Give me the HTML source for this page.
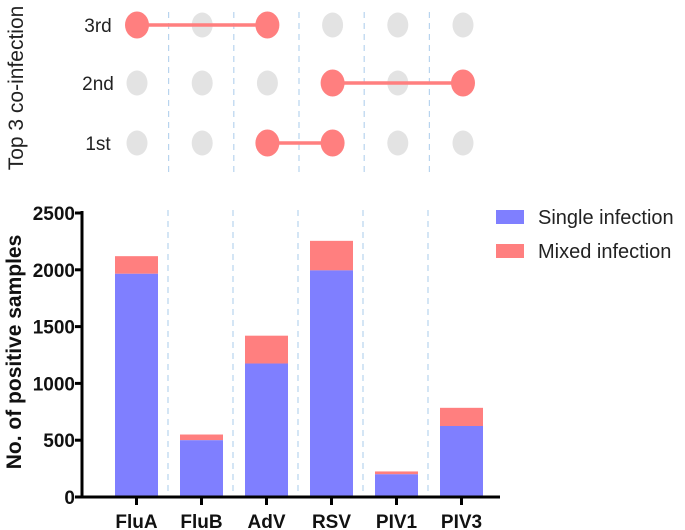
<!DOCTYPE html>
<html><head><meta charset="utf-8"><style>
body{margin:0;background:#fff}
svg{display:block;font-family:"Liberation Sans",Arial,sans-serif}
</style></head><body>
<svg id="c" width="685" height="530" viewBox="0 0 685 530"></svg>
<script>
const categories=["FluA","FluB","AdV","RSV","PIV1","PIV3"];
const singleVals=[1965,500,1175,1995,200,625];
const mixedTotals=[2120,550,1420,2255,225,785];
const yTicks=[0,500,1000,1500,2000,2500];
const rankLabels=["3rd","2nd","1st"];
const pairs=[[0,2],[3,5],[2,3]];
const NS="http://www.w3.org/2000/svg";
const svg=document.getElementById('c');
function mk(t,a,p){const e=document.createElementNS(NS,t);for(const k in a)e.setAttribute(k,a[k]);(p||svg).appendChild(e);return e;}
const y=v=>497-v/2500*284;
const x=i=>136.5+65*i;
const dotX=i=>137+65.2*i;
const rowY=[25,83,143];
for(let i=0;i<5;i++){const sx=(dotX(i)+dotX(i+1))/2-1;const l=mk('line',{x1:sx,y1:12,x2:sx,y2:172,stroke:'#b8d4ee','stroke-width':1.2,'stroke-dasharray':'6,5'});
}
rankLabels.forEach((r,ri)=>{
 const t=mk('text',{x:98,y:rowY[ri]+7,'font-size':19,'text-anchor':'middle',fill:'#222'});t.textContent=r;
 
 for(let i=0;i<6;i++){
  const c=mk('ellipse',{cx:dotX(i),cy:rowY[ri],rx:10.5,ry:12.5,fill:'#e3e3e3'});
  }
});
pairs.forEach((p,ri)=>{
 const l=mk('line',{x1:dotX(p[0]),y1:rowY[ri],x2:dotX(p[1]),y2:rowY[ri],stroke:'#ff7f7f','stroke-width':3.5});
 
 p.forEach(i=>{const c=mk('ellipse',{cx:dotX(i),cy:rowY[ri],rx:12,ry:13.5,fill:'#ff7f7f'});
 });
});
const tt=mk('text',{transform:'translate(23,88) rotate(-90)','font-size':21,'text-anchor':'middle',fill:'#222'});tt.textContent='Top 3 co-infection';

for(let i=0;i<5;i++){const sx=(x(i)+x(i+1))/2-1;const l=mk('line',{x1:sx,y1:210,x2:sx,y2:495,stroke:'#b8d4ee','stroke-width':1.2,'stroke-dasharray':'6,5'});
}
categories.forEach((c,i)=>{
 const bw=43;
 const m=mk('rect',{x:x(i)-bw/2,y:y(mixedTotals[i]),width:bw,height:y(singleVals[i])-y(mixedTotals[i]),fill:'#ff7f7f'});
 
 const s=mk('rect',{x:x(i)-bw/2,y:y(singleVals[i]),width:bw,height:y(0)-y(singleVals[i]),fill:'#7f7fff'});
 
 const tk=mk('line',{x1:x(i),y1:497,x2:x(i),y2:505,stroke:'#000','stroke-width':3});
 
 const t=mk('text',{x:x(i),y:528,'font-size':19,'font-weight':'bold','text-anchor':'middle',fill:'#111'});t.textContent=c;
 
});
const ya=mk('line',{x1:82,y1:211,x2:82,y2:498.5,stroke:'#000','stroke-width':3});
const xa=mk('line',{x1:76,y1:497,x2:500,y2:497,stroke:'#000','stroke-width':3});
yTicks.forEach(v=>{
 const tk=mk('line',{x1:75,y1:y(v),x2:82,y2:y(v),stroke:'#000','stroke-width':3});
 const t=mk('text',{x:75,y:y(v)+7,'font-size':19,'font-weight':'bold','text-anchor':'end',fill:'#111'});t.textContent=v;
 
});
const yt=mk('text',{transform:'translate(21,352) rotate(-90)','font-size':21,'font-weight':'bold','text-anchor':'middle',fill:'#111'});yt.textContent='No. of  positive samples';

[['Single infection','#7f7fff',210],['Mixed infection','#ff7f7f',244]].forEach(([n,col,ly])=>{
 const r=mk('rect',{x:496,y:ly,width:28,height:14,fill:col});
 const t=mk('text',{x:538,y:ly+14,'font-size':20,fill:'#222'});t.textContent=n;
 
});
</script>
</body></html>
